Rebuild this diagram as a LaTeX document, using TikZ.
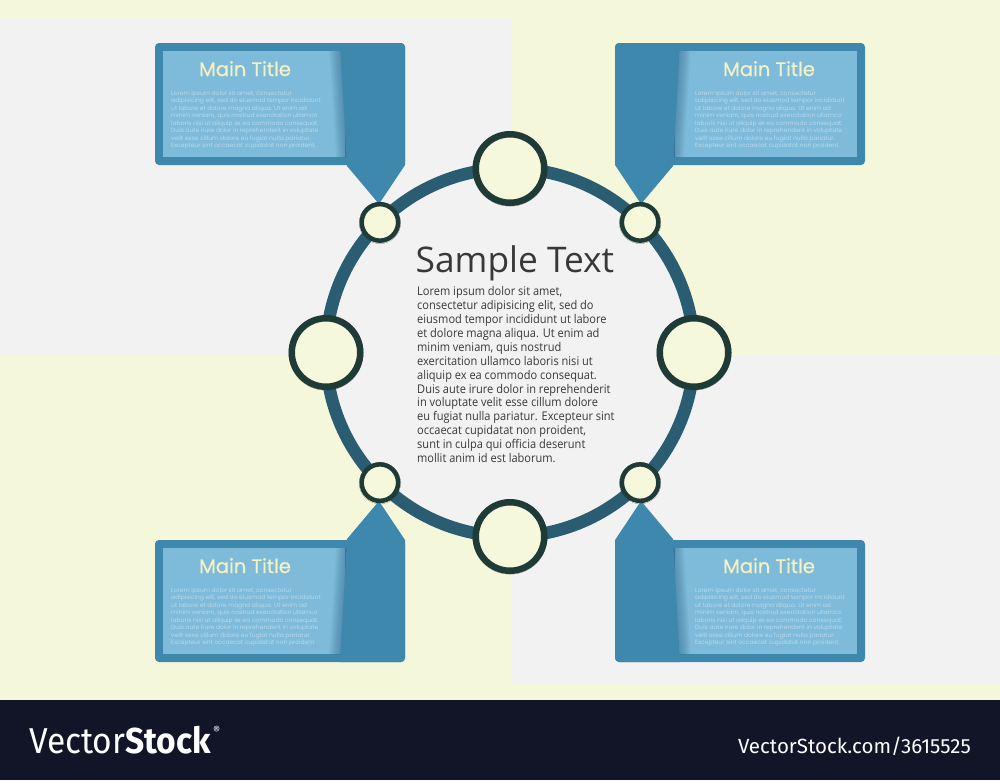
\documentclass[tikz,border=0pt]{standalone}
\usepackage{fontspec}
\setmainfont{Open Sans}
\newfontfamily\titlefont[FakeBold=0.7]{Poppins}
\newfontfamily\smallfont{Poppins}
\newfontfamily\bodyfont[FakeStretch=0.92]{Open Sans}
\newfontfamily\wmfont[FakeStretch=0.93]{Fira Sans}
\newfontfamily\urlfont{Fira Sans}
\usetikzlibrary{shadows.blur}
\definecolor{cream}{HTML}{F5F7DA}
\definecolor{lgray}{HTML}{F2F2F2}
\definecolor{ringc}{HTML}{2A5C72}
\definecolor{rimc}{HTML}{1F3B37}
\definecolor{dotfill}{HTML}{F6F8DC}
\definecolor{boxc}{HTML}{3F88AD}
\definecolor{panelc}{HTML}{7EBBDA}
\definecolor{panelsh}{HTML}{2F6488}
\definecolor{titlec}{HTML}{F4F1C2}
\definecolor{smallc}{HTML}{B6DAEC}
\definecolor{textc}{HTML}{383838}
\definecolor{barc}{HTML}{121427}
\newcommand{\infoshape}{%
  \fill[boxc, rounded corners=4pt] (155,43) rectangle (405,165);
  \fill[panelc] (163,51) rectangle (345,157);
  \foreach \k in {1,...,8}
    \fill[panelsh, opacity=0.07] ({340.6-1.4*\k},51) -- (340.8,51) -- (347.6,157) -- ({347.4-1.4*\k},157) -- cycle;
  \begin{scope}
    \clip[rounded corners=4pt] (155,43) rectangle (405,165);
    \fill[boxc] (340,43) -- (405,43) -- (405,165) -- (347,165) -- cycle;
  \end{scope}
  \fill[boxc] (346.8,160) -- (405,160) -- (405,165) -- (379,204) -- (347,166) -- cycle;
}
\newcommand{\boxtexts}[4]{% #1 prefix, #2 title x, #3 text x, #4 y offset
  \node[titlestyle] (#1title) at (#2,76+#4) {Main Title};
  \foreach \t [count=\i] in {{Lorem ipsum dolor sit amet, consectetur},
    {adipisicing elit, sed do eiusmod tempor incididunt},
    {ut labore et dolore magna aliqua. Ut enim ad},
    {minim veniam, quis nostrud exercitation ullamco},
    {laboris nisi ut aliquip ex ea commodo consequat.},
    {Duis aute irure dolor in reprehenderit in voluptate},
    {velit esse cillum dolore eu fugiat nulla pariatur.},
    {Excepteur sint occaecat cupidatat non proident.}}
    \node[smalltext] (#1line\i) at (#3,{95.5+#4+(\i-1)*7.43}) {\t};
}
\begin{document}
\begin{tikzpicture}[x=1pt,y=-1pt,
  bigdot/.style={circle, draw=rimc, line width=6.5pt, fill=dotfill, minimum size=68.5pt, inner sep=0pt,
    blur shadow={shadow xshift=0pt, shadow yshift=-0.5pt, shadow blur radius=3pt, shadow opacity=35}},
  smalldot/.style={circle, draw=rimc, line width=4.5pt, fill=dotfill, minimum size=36.5pt, inner sep=0pt,
    blur shadow={shadow xshift=0pt, shadow yshift=-0.5pt, shadow blur radius=2.5pt, shadow opacity=35}},
  titlestyle/.style={anchor=base, inner sep=0pt, text=titlec, font=\titlefont\fontsize{19.5}{20}\selectfont},
  smalltext/.style={anchor=base west, inner sep=0pt, text=smallc, font=\smallfont\fontsize{6}{6}\selectfont},
  bodytext/.style={anchor=base west, inner sep=0pt, text=textc, font=\bodyfont\fontsize{12}{13}\selectfont},
]
\useasboundingbox (0,0) rectangle (1000,780);
% backgrounds
\fill[cream] (0,0) rectangle (1000,700);
\fill[lgray] (0,18) rectangle (512,356);
\fill[lgray] (512,355) rectangle (1000,683);
\fill[barc] (0,700) rectangle (1000,780);
% info boxes
\infoshape
\begin{scope}[xshift=1020pt,xscale=-1]\infoshape\end{scope}
\begin{scope}[yshift=-705pt,yscale=-1]\infoshape\end{scope}
\begin{scope}[xshift=1020pt,xscale=-1,yshift=-705pt,yscale=-1]\infoshape\end{scope}
\boxtexts{tl}{245}{171}{0}
\boxtexts{tr}{769}{695}{0}
\boxtexts{bl}{245}{171}{497}
\boxtexts{br}{769}{695}{497}
% ring
\node[circle, draw=ringc, line width=12.5pt, fill=lgray, minimum size=368pt, inner sep=0pt, outer sep=0pt] (ring) at (510,352.5) {};
\node[bigdot] (dtop) at (ring.90) {};
\node[bigdot] (dbottom) at (ring.270) {};
\node[bigdot] (dleft) at (ring.180) {};
\node[bigdot] (dright) at (ring.0) {};
\node[smalldot] (dtl) at (ring.135) {};
\node[smalldot] (dtr) at (ring.45) {};
\node[smalldot] (dbl) at (ring.225) {};
\node[smalldot] (dbr) at (ring.315) {};
% center text
\node[anchor=base west, inner sep=0pt, text=textc, font=\fontsize{35.3}{36}\selectfont] (stitle) at (415.5,272) {Sample Text};
\foreach \t [count=\i] in {{Lorem ipsum dolor sit amet,},
  {consectetur adipisicing elit, sed do},
  {eiusmod tempor incididunt ut labore},
  {et dolore magna aliqua. Ut enim ad},
  {minim veniam, quis nostrud},
  {exercitation ullamco laboris nisi ut},
  {aliquip ex ea commodo consequat.},
  {Duis aute irure dolor in reprehenderit},
  {in voluptate velit esse cillum dolore},
  {eu fugiat nulla pariatur. Excepteur sint},
  {occaecat cupidatat non proident,},
  {sunt in culpa qui officia deserunt},
  {mollit anim id est laborum.}}
  \node[bodytext] (body\i) at (417,{295.7+(\i-1)*13.9}) {\t};
% watermark
\node[anchor=base west, inner sep=0pt, text=white, font=\wmfont\fontsize{36}{36}\selectfont] (wm) at (29,753) {Vector\textbf{Stock}};
\node[anchor=north west, inner sep=0pt, text=white, font=\urlfont\fontsize{11}{11}\selectfont] (wmr) at ([xshift=1.5pt,yshift=-1pt]wm.north east) {®};
\node[anchor=base east, inner sep=0pt, text=white, font=\urlfont\fontsize{20.5}{21}\selectfont] (wmurl) at (971,753) {VectorStock.com/3615525};
\end{tikzpicture}
\end{document}
